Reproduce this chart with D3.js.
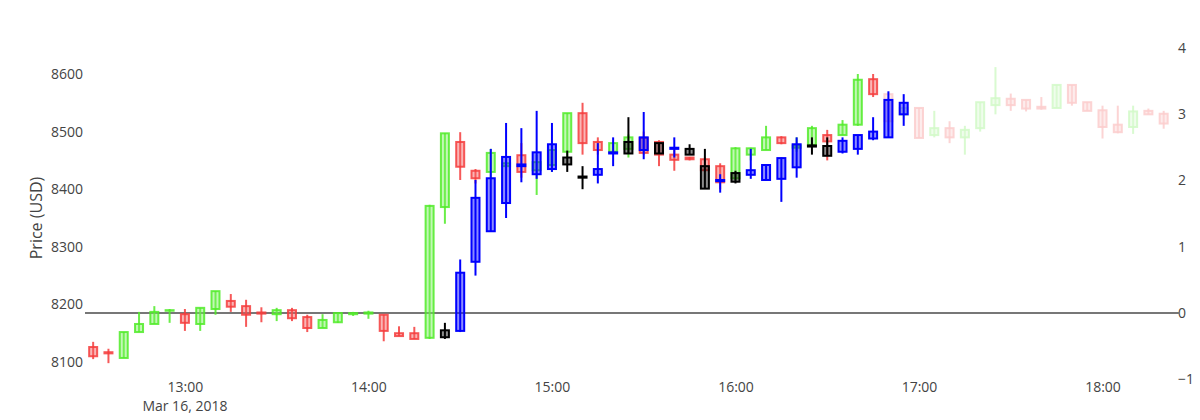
<!DOCTYPE html>
<html><head><meta charset="utf-8">
<script src="https://cdn.jsdelivr.net/npm/d3@7"></script>
<style>body{margin:0;background:#fff}text{font-family:"Open Sans",Arial,sans-serif}</style>
</head><body><svg id="c" width="1200" height="420"></svg>
<script>
const rgTimes=["12:30","12:35","12:40","12:45","12:50","12:55","13:00","13:05","13:10","13:15","13:20","13:25","13:30","13:35","13:40","13:45","13:50","13:55","14:00","14:05","14:10","14:15","14:20","14:25","14:30","14:35","14:40","14:45","14:50","14:55","15:00","15:05","15:10","15:15","15:20","15:25","15:30","15:35","15:40","15:45","15:50","15:55","16:00","16:05","16:10","16:15","16:20","16:25","16:30","16:35","16:40","16:45","16:50","16:55","17:00","17:05","17:10","17:15","17:20","17:25","17:30","17:35","17:40","17:45","17:50","17:55","18:00","18:05","18:10","18:15","18:20"];
// [open, high, low, close]
const rgOHLC=[[8126,8135,8105,8110],[8117,8123,8098,8115],[8107,8152,8107,8152],[8152,8187,8152,8166],[8166,8197,8166,8187],[8189,8192,8168,8190],[8183,8192,8154,8168],[8166,8194,8154,8194],[8192,8223,8182,8223],[8206,8218,8187,8196],[8197,8208,8161,8182],[8186,8195,8169,8184],[8183,8194,8171,8190],[8190,8194,8171,8176],[8178,8182,8152,8159],[8159,8183,8159,8173],[8169,8185,8168,8185],[8183,8187,8180,8185],[8184,8189,8175,8186],[8182,8182,8136,8154],[8150,8162,8145,8145],[8150,8161,8140,8140],[8142,8373,8140,8371],[8369,8497,8340,8497],[8482,8499,8416,8439],[8432,8435,8410,8419],[8430,8470,8420,8463],[8440,8450,8440,8445],[8459,8480,8420,8430],[8433,8460,8390,8447],[8442,8480,8430,8468],[8465,8532,8454,8532],[8532,8550,8460,8480],[8482,8490,8460,8468],[8465,8482,8462,8480],[8470,8495,8455,8490],[8489,8500,8460,8463],[8482,8485,8440,8460],[8460,8468,8432,8451],[8455,8456,8450,8452],[8452,8455,8430,8433],[8440,8445,8400,8412],[8419,8473,8415,8471],[8460,8472,8450,8471],[8468,8510,8468,8490],[8490,8492,8478,8480],[8472,8490,8465,8476],[8477,8510,8477,8506],[8494,8503,8450,8483],[8494,8520,8494,8512],[8512,8600,8510,8590],[8591,8600,8560,8565],[8565,8568,8500,8518],[8529,8541,8522,8541],[8541,8541,8489,8489],[8494,8536,8490,8506],[8506,8518,8480,8490],[8490,8510,8460,8503],[8506,8551,8500,8551],[8546,8612,8530,8558],[8557,8566,8536,8546],[8555,8555,8535,8540],[8543,8560,8538,8540],[8541,8581,8541,8581],[8581,8581,8545,8550],[8551,8551,8536,8536],[8537,8545,8488,8508],[8512,8545,8497,8499],[8508,8545,8496,8535],[8536,8540,8530,8530],[8531,8536,8505,8514],[8506,8536,8504,8532]];
const rgFadeFrom="16:50";
const bkTimes=["14:25","14:30","14:35","14:40","14:45","14:50","14:55","15:00","15:05","15:10","15:15","15:20","15:25","15:30","15:35","15:40","15:45","15:50","15:55","16:00","16:05","16:10","16:15","16:20","16:25","16:30","16:35","16:40","16:45","16:50","16:55"];
const bkOHLC=[[8155,8168,8140,8143],[8154,8278,8152,8255],[8274,8416,8250,8385],[8327,8470,8327,8419],[8376,8515,8350,8456],[8440,8506,8412,8443],[8426,8536,8418,8464],[8435,8515,8430,8478],[8455,8467,8430,8443],[8422,8440,8400,8420],[8425,8480,8410,8435],[8462,8490,8440,8464],[8482,8525,8462,8462],[8468,8534,8452,8490],[8480,8480,8462,8462],[8470,8490,8455,8472],[8470,8478,8460,8460],[8440,8470,8401,8401],[8414,8426,8394,8416],[8428,8432,8410,8413],[8425,8470,8418,8433],[8416,8442,8415,8442],[8418,8455,8378,8454],[8438,8490,8420,8478],[8476,8490,8460,8474],[8475,8490,8458,8458],[8465,8490,8462,8484],[8470,8494,8460,8494],[8488,8525,8485,8500],[8490,8570,8490,8555],[8530,8565,8510,8550]];
const yTicks=[8100,8200,8300,8400,8500,8600];
const y2Ticks=[-1,0,1,2,3,4];
const xTicks=["13:00","14:00","15:00","16:00","17:00","18:00"];
const dateLabel="Mar 16, 2018";

const T=s=>{const [h,m]=s.split(":").map(Number);return new Date(2018,2,16,h,m);};
const svg=d3.select("#c");
const x=d3.scaleTime().domain([new Date(2018,2,16,12,27,20),new Date(2018,2,16,18,25,20)]).range([85,1180]);
const y=d3.scaleLinear().domain([8100,8600]).range([362,74]);
const y2=d3.scaleLinear().domain([0,4]).range([313,48]);

const gx=svg.append("g").attr("transform","translate(0,380)")
 .call(d3.axisBottom(x).tickValues(xTicks.map(T)).tickFormat(d3.timeFormat("%H:%M")).tickSize(0).tickPadding(2));
const gy=svg.append("g").attr("transform","translate(85,0)")
 .call(d3.axisLeft(y).tickValues(yTicks).tickFormat(d3.format("d")).tickSize(0).tickPadding(2));
const gy2=svg.append("g").attr("transform","translate(1176,0)")
 .call(d3.axisRight(y2).tickValues(y2Ticks).tickFormat(d=>d<0?"\u2212"+(-d):d).tickSize(0).tickPadding(2));
[gx,gy,gy2].forEach(g=>{g.select(".domain").remove();g.selectAll("text").attr("fill","#444").style("font-size","14px").style("font-family","'Open Sans',Arial,sans-serif");});
svg.append("text").attr("x",x(T(xTicks[0]))).attr("y",411).attr("text-anchor","middle").attr("fill","#444").style("font-size","14px").text(dateLabel);
svg.append("text").attr("transform","translate(42,218) rotate(-90)").attr("text-anchor","middle").attr("fill","#444").style("font-size","16px").text("Price (USD)");

svg.append("line").attr("x1",85).attr("x2",1180).attr("y1",y2(0)).attr("y2",y2(0)).attr("stroke","#777").attr("stroke-width",2);

function candles(times,ohlc,style,opacityFn){
  const g=svg.append("g");
  times.forEach((t,i)=>{
    const [o,h,l,c]=ohlc[i];const up=c>o;const st=up?style.inc:style.dec;
    const cx=x(T(t)),w=8;
    const gg=g.append("g").attr("opacity",opacityFn?opacityFn(t):1);
    gg.append("line").attr("x1",cx).attr("x2",cx).attr("y1",y(Math.max(h,o,c))).attr("y2",y(Math.min(l,o,c))).attr("stroke",st.line).attr("stroke-width",2);
    const top=y(Math.max(o,c)),bot=y(Math.min(o,c));
    gg.append("rect").attr("x",cx-w/2).attr("y",top).attr("width",w).attr("height",Math.max(bot-top,0.5))
      .attr("fill",st.fill).attr("stroke",st.line).attr("stroke-width",2);
  });
}
candles(rgTimes,rgOHLC,{inc:{line:"rgba(80,235,40,0.85)",fill:"rgba(120,240,90,0.45)"},dec:{line:"rgba(245,60,60,0.85)",fill:"rgba(245,90,90,0.45)"}},t=>T(t)>=T(rgFadeFrom)?0.25:1);
candles(bkTimes,bkOHLC,{inc:{line:"#0000ff",fill:"rgba(0,0,255,0.45)"},dec:{line:"#000",fill:"rgba(0,0,0,0.45)"}});
</script></body></html>
